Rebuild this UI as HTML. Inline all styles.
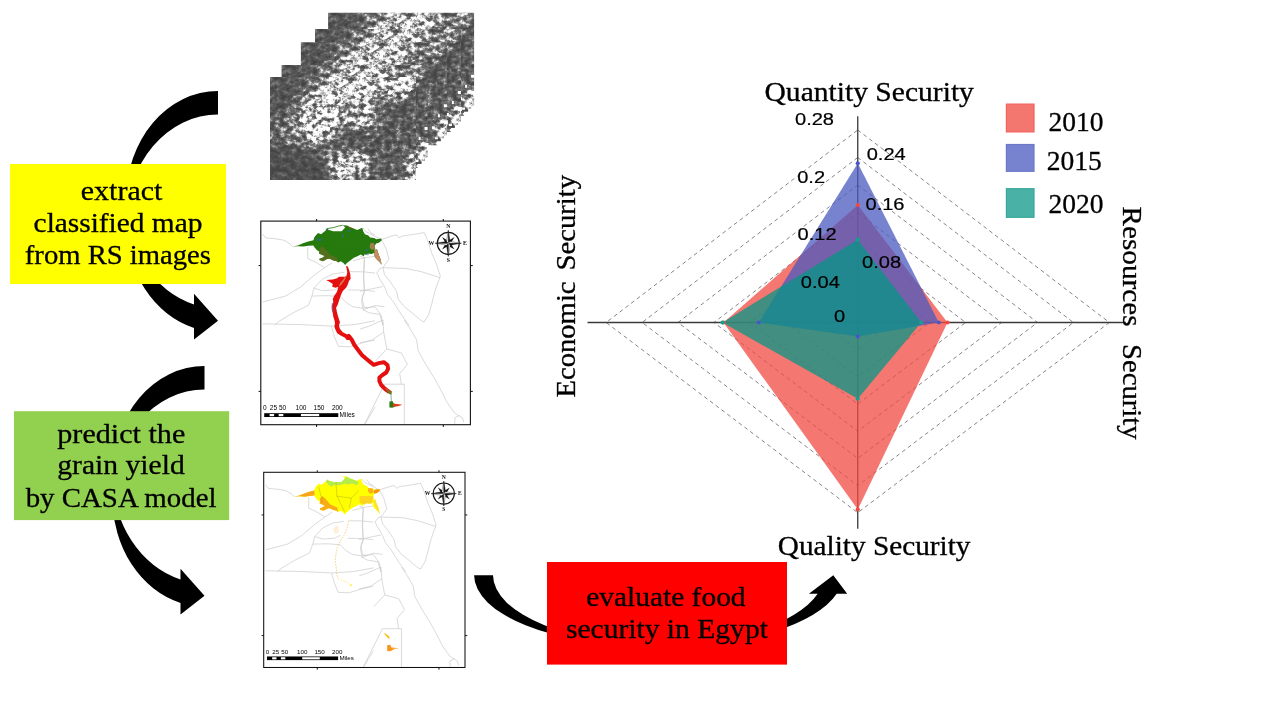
<!DOCTYPE html>
<html lang="en"><head><meta charset="utf-8"><title>Food security in Egypt - graphical abstract</title>
<style>
html,body{margin:0;padding:0;background:#fff;}
body{width:1280px;height:720px;overflow:hidden;}
svg{display:block;}
.pal{font-family:"Liberation Serif","DejaVu Serif",serif;font-size:26.6px;fill:#000;stroke:#000;stroke-width:0.3px;}
.ari{font-family:"Liberation Sans","DejaVu Sans",sans-serif;font-size:17px;fill:#000;stroke:#000;stroke-width:0.2px;}
.sm{font-family:"Liberation Sans","DejaVu Sans",sans-serif;font-size:6.5px;fill:#000;}
.cmp{font-family:"Liberation Serif",serif;font-size:5.8px;font-weight:bold;fill:#111;}
</style></head><body>
<svg width="1280" height="720" viewBox="0 0 1280 720">
<rect width="1280" height="720" fill="#fff"/>

<defs>
<filter id="noise" x="0" y="0" width="100%" height="100%" filterUnits="objectBoundingBox" color-interpolation-filters="sRGB">
 <feTurbulence type="fractalNoise" baseFrequency="0.19 0.22" numOctaves="4" seed="11" result="t"/>
 <feColorMatrix in="t" type="matrix" values="1 0 0 0 0  1 0 0 0 0  1 0 0 0 0  0 0 0 0 1" result="g"/>
 <feComposite in="SourceGraphic" in2="g" operator="arithmetic" k1="2.4" k2="-0.2" k3="0.2" k4="-0.1" result="m"/>
 <feComponentTransfer in="m"><feFuncR type="table" tableValues="0.25 0.29 0.35 0.46 0.72 0.96 1"/><feFuncG type="table" tableValues="0.25 0.29 0.35 0.46 0.72 0.96 1"/><feFuncB type="table" tableValues="0.25 0.29 0.35 0.46 0.72 0.96 1"/><feFuncA type="linear" slope="0" intercept="1"/></feComponentTransfer>
</filter>
<filter id="bl4" x="-30%" y="-30%" width="160%" height="160%"><feGaussianBlur stdDeviation="4.5"/></filter>
<filter id="bl2" x="-30%" y="-30%" width="160%" height="160%"><feGaussianBlur stdDeviation="1.6"/></filter>
<clipPath id="satclip"><rect x="0" y="0" width="146" height="103"/></clipPath>
<g id="sat">
 <g clip-path="url(#satclip)">
  <g filter="url(#noise)">
   <rect x="-10" y="-10" width="166" height="123" fill="#6a6a6a"/>
   <g filter="url(#bl4)">
    <path d="M54,-4 L107,-4 L113,12 L99,25 L107,41 L94,49 L75,46 L62,57 L48,69 L35,60 L27,41 L36,22 L48,12Z" fill="#c0c0c0"/>
    <path d="M113,-4 L150,-4 L150,13 L126,24 L112,12Z" fill="#c2c2c2"/>
    <path d="M62,79 L97,77 L97,92 L75,103 L62,98Z" fill="#c2c2c2"/>
    <rect x="19" y="34" width="14" height="30" fill="#8a8a8a"/>
    <path d="M-8,-8 L40,-8 L26,14 L16,40 L-8,44Z" fill="#484848"/>
    <path d="M-8,66 L30,72 L52,80 L64,112 L-8,112Z" fill="#3a3a3a"/>
    <rect x="71" y="27" width="19" height="12" fill="#686868"/>
    <rect x="70" y="51" width="28" height="22" fill="#505050"/>
    <path d="M118,28 L150,14 L150,110 L100,110 L102,76Z" fill="#5a5a5a"/>
    <rect x="138" y="74" width="14" height="32" fill="#b0b0b0"/>
   </g>
   <path d="M152,4 L123,45 L99,78" stroke="#333" stroke-width="3.5" fill="none" filter="url(#bl2)"/>
  </g>
 </g>
</g>
<g id="satw">
 <g clip-path="url(#satclip)">
  <g filter="url(#noise)">
   <rect x="-10" y="-10" width="166" height="123" fill="#6a6a6a"/>
   <g filter="url(#bl4)">
    <path d="M58,-4 L104,-4 L113,12 L99,25 L107,41 L94,49 L75,46 L62,57 L48,69 L35,60 L27,41 L36,22 L48,12Z" fill="#b4b4b4"/>
    <path d="M113,-4 L150,-4 L150,13 L126,24 L112,12Z" fill="#7e7e7e"/>
    <rect x="36" y="-4" width="20" height="14" fill="#7c7c7c"/>
    <path d="M-8,-8 L40,-8 L26,14 L16,40 L-8,44Z" fill="#484848"/>
    <path d="M118,28 L150,14 L150,110 L100,110 L102,76Z" fill="#5a5a5a"/>
    <rect x="138" y="76" width="14" height="30" fill="#b8b8b8"/>
   </g>
   <path d="M152,4 L123,45 L99,78" stroke="#333" stroke-width="3.5" fill="none" filter="url(#bl2)"/>
  </g>
 </g>
 <path d="M147,93 h-4 v3 h-3 v3 h-4 v5 h11Z M141,86 h3 v3 h-3Z M134,95 h3 v2 h-3Z M143,78 h4 v4 h-4Z M137,72 h2 v3 h-2Z M131,84 h3 v3 h-3Z M143,62 h3 v3 h-3Z" fill="#fff"/>
</g>
</defs>

<g id="satellite-stack">
<use href="#satw" x="328.1" y="12.7"/>
<use href="#satw" x="314.9" y="29.0"/>
<use href="#satw" x="300.9" y="42.2"/>
<use href="#satw" x="281.6" y="64.9"/>
<use href="#sat" x="270.0" y="77.0"/>
</g>
<path id="arrow1" d="M218,91 A92,108.6 0 0 0 126,199.6 L126,223.1 A92,108.6 0 0 1 218,114.5 Z M126,199.6 A92,108.6 0 0 0 194,304.4 L194,293.75 L218,320.75 L194,339.5 L194,327.9 A92,108.6 0 0 1 126,223.1 Z" fill="#000"/>
<path id="arrow2" d="M218,91 A92,108.6 0 0 0 126,199.6 L126,223.1 A92,108.6 0 0 1 218,114.5 Z M126,199.6 A92,108.6 0 0 0 194,304.4 L194,293.75 L218,320.75 L194,339.5 L194,327.9 A92,108.6 0 0 1 126,223.1 Z" fill="#000" transform="translate(-13.5,275)"/>
<path id="arrow3" d="M474.1,575.3 A174.9,71 0 0 0 649,646 A174.9,71 0 0 0 817.7,593.75 L808.9,593.75 L833.3,575.3 L847.2,593.75 L836.7,593.75 A174.9,71 0 0 1 668,646 A174.9,71 0 0 1 493,575.3 Z" fill="#000"/>
<rect x="10" y="164" width="216" height="120" fill="#ffff00"/>
<rect x="14" y="411.2" width="215.2" height="108.9" fill="#92d050"/>
<rect x="547" y="562" width="240" height="102.6" fill="#ff0000"/>
<text class="pal" x="80.8" y="200.4" textLength="81.6" lengthAdjust="spacingAndGlyphs">extract</text>
<text class="pal" x="33.6" y="232.4" textLength="168.8" lengthAdjust="spacingAndGlyphs">classified map</text>
<text class="pal" x="24.8" y="264.2" textLength="186.2" lengthAdjust="spacingAndGlyphs">from RS images</text>
<text class="pal" x="57.3" y="442.8" textLength="128.0" lengthAdjust="spacingAndGlyphs">predict the</text>
<text class="pal" x="57.3" y="474.4" textLength="127.5" lengthAdjust="spacingAndGlyphs">grain yield</text>
<text class="pal" x="25.7" y="507.0" textLength="190.8" lengthAdjust="spacingAndGlyphs">by CASA model</text>
<text class="pal" x="586.2" y="605.8" textLength="159.4" lengthAdjust="spacingAndGlyphs">evaluate food</text>
<text class="pal" x="565.9" y="637.7" textLength="202.0" lengthAdjust="spacingAndGlyphs">security in Egypt</text>
<g id="radar">
<g fill="none" stroke="#868686" stroke-width="1" stroke-dasharray="3.9 3.3">
<path d="M857.75,295.00 L893.70,322.50 L857.75,349.67 L821.80,322.50 Z"/>
<path d="M857.75,267.50 L929.65,322.50 L857.75,376.84 L785.85,322.50 Z"/>
<path d="M857.75,240.00 L965.60,322.50 L857.75,404.01 L749.90,322.50 Z"/>
<path d="M857.75,212.50 L1001.55,322.50 L857.75,431.18 L713.95,322.50 Z"/>
<path d="M857.75,185.00 L1037.50,322.50 L857.75,458.35 L678.00,322.50 Z"/>
<path d="M857.75,157.50 L1073.45,322.50 L857.75,485.52 L642.05,322.50 Z"/>
<path d="M857.75,130.00 L1109.40,322.50 L857.75,512.69 L606.10,322.50 Z"/>
</g>
<path d="M587.5,322.5 H1126 M857.75,116.3 V528.8" stroke="#3a3a3a" stroke-width="1.3" fill="none"/>
<path d="M857.8,205.0 L947.5,322.5 L857.8,509.5 L723.5,322.5Z" fill="rgba(240,75,65,0.75)"/>
<path d="M857.8,163.2 L938.8,322.5 L857.8,336.6 L758.8,322.5Z" fill="rgba(75,90,191,0.75)"/>
<path d="M857.8,239.7 L921.2,322.5 L857.8,398.8 L722.5,322.5Z" fill="rgba(7,150,134,0.75)"/>
<circle cx="857.75" cy="205.00" r="2.1" fill="#f4483c"/>
<circle cx="947.50" cy="322.50" r="2.1" fill="#f4483c"/>
<circle cx="857.75" cy="509.50" r="2.1" fill="#f4483c"/>
<circle cx="723.50" cy="322.50" r="2.1" fill="#f4483c"/>
<circle cx="857.75" cy="163.25" r="2.1" fill="#4858c8"/>
<circle cx="938.75" cy="322.50" r="2.1" fill="#4858c8"/>
<circle cx="857.75" cy="336.60" r="2.1" fill="#4858c8"/>
<circle cx="758.75" cy="322.50" r="2.1" fill="#4858c8"/>
<circle cx="857.75" cy="239.70" r="2.1" fill="#14a08c"/>
<circle cx="921.25" cy="322.50" r="2.1" fill="#14a08c"/>
<circle cx="857.75" cy="398.75" r="2.1" fill="#14a08c"/>
<circle cx="722.50" cy="322.50" r="2.1" fill="#14a08c"/>
<text class="ari" transform="translate(795.0,125.3) scale(1.180,1)">0.28</text>
<text class="ari" transform="translate(866.7,159.7) scale(1.180,1)">0.24</text>
<text class="ari" transform="translate(797.2,182.8) scale(1.180,1)">0.2</text>
<text class="ari" transform="translate(865.5,210.0) scale(1.180,1)">0.16</text>
<text class="ari" transform="translate(797.6,240.2) scale(1.180,1)">0.12</text>
<text class="ari" transform="translate(862.1,268.4) scale(1.180,1)">0.08</text>
<text class="ari" transform="translate(800.8,287.9) scale(1.180,1)">0.04</text>
<text class="ari" transform="translate(834.0,321.8) scale(1.180,1)">0</text>
<text class="pal" x="764.5" y="100.6" textLength="209.4" lengthAdjust="spacingAndGlyphs">Quantity Security</text>
<text class="pal" x="777.8" y="555.0" textLength="192.6" lengthAdjust="spacingAndGlyphs">Quality Security</text>
<text class="pal" transform="translate(574.7,397.6) rotate(-90)" xml:space="preserve"><tspan x="0" textLength="116.2" lengthAdjust="spacingAndGlyphs">Economic</tspan><tspan>  </tspan><tspan x="127.0" textLength="95.8" lengthAdjust="spacingAndGlyphs">Security</tspan></text>
<text class="pal" transform="translate(1123.2,206.5) rotate(90)" xml:space="preserve"><tspan x="0" textLength="120.0" lengthAdjust="spacingAndGlyphs">Resources</tspan><tspan>  </tspan><tspan x="137.6" textLength="95.4" lengthAdjust="spacingAndGlyphs">Security</tspan></text>
<rect x="1006.4" y="104.1" width="27.6" height="27.8" fill="#f4776f" stroke="#f2625a" stroke-width="1.2"/>
<rect x="1006.4" y="144.5" width="27.6" height="26.8" fill="#7883cf" stroke="#6d78c8" stroke-width="1.2"/>
<rect x="1006.4" y="188.7" width="27.6" height="28.6" fill="#49b1a6" stroke="#3ba79b" stroke-width="1.2"/>
<text class="pal" x="1048.6" y="130.8" style="font-size:27.5px">2010</text>
<text class="pal" x="1046.8" y="170.1" style="font-size:27.5px">2015</text>
<text class="pal" x="1048.6" y="213.4" style="font-size:27.5px">2020</text>
</g>
<g id="map-classified">
<rect x="260.8" y="221.1" width="209.6" height="203.6" fill="#fff"/>
<g fill="none" stroke="#c9c9c9" stroke-width="0.7" stroke-linejoin="round">
<path d="M262.6,234.1 L265.7,237.9 L274.9,238.7 L284.0,240.2 L290.2,244.0 L292.5,246.6"/>
<path d="M307.7,247.4 L307.7,258.6 L316.1,262.4 L324.6,267.7"/>
<path d="M332.2,262.7 L324.6,267.7 L313.1,276.1 L300.9,286.8 L285.6,296.0 L262.6,302.1"/>
<path d="M344.4,272.3 L333.0,273.9 L322.3,279.2 L313.9,288.1 L311.9,296.0 L308.5,305.2 L293.2,312.8 L277.9,322.0 L274.9,325.1"/>
<path d="M313.9,288.1 L322.3,290.7 L334.5,289.9 L340.6,286.8"/>
<path d="M311.9,296.0 L328.4,295.7 L340.6,296.8 L346.7,302.9 L352.8,306.7 L362.0,308.2 L375.0,306.7"/>
<path d="M352.8,260.9 L364.3,257.8 L375.0,256.3"/>
<path d="M364.3,257.8 L363.8,276.1 L364.3,291.4 L362.0,297.5 L363.8,306.7 L368.1,308.2"/>
<path d="M349.8,271.6 L364.3,271.9 L375.0,273.1"/>
<path d="M348.2,289.9 L364.3,290.2 L375.0,291.4"/>
<path d="M368.1,228.8 L371.2,233.3 L375.0,234.9"/>
<path d="M363.1,228.0 L366.1,231.8 L369.2,233.3 L375.3,236.4 L381.4,239.5 L390.6,236.4 L396.7,234.9 L399.0,237.9 L402.0,236.1 L410.4,234.9 L424.2,232.6 L427.3,239.5 L431.8,253.2 L436.4,263.9 L440.3,276.1 L438.0,282.3 L434.9,291.4 L431.8,303.7 L428.8,314.4 L424.2,322.0 L421.1,320.5 L412.0,312.8 L404.3,306.7 L398.2,299.1 L396.7,291.4 L390.6,282.3 L384.5,274.6 L382.9,267.7 L379.9,268.5 L376.8,273.1 L379.9,279.2 L384.5,286.8 L387.5,294.5 L393.6,302.1 L398.2,309.8 L404.3,318.9 L408.9,325.1"/>
<path d="M382.9,267.7 L405.9,268.5 L421.1,271.6 L440.3,277.7"/>
<path d="M381.4,239.5 L386.0,248.6 L389.0,259.3 L382.9,267.7"/>
<path d="M360.0,256.3 L364.6,257.8 L363.4,276.1 L364.6,291.4 L361.5,300.6 L363.1,309.8 L369.2,312.8 L379.9,314.4 L382.9,325.1"/>
<path d="M360.0,291.4 L372.2,288.7 L382.9,286.5"/>
<path d="M363.1,309.8 L375.3,305.5 L384.5,306.7"/>
<path d="M375.0,306.7 L381.4,315.9 L382.9,325.1"/>
<path d="M262.6,323.8 L300.9,324.6 L331.4,326.1 L354.4,324.6 L375.0,320.8"/>
<path d="M331.4,326.1 L334.5,336.8 L338.3,346.3 L349.8,346.8 L362.0,342.9 L375.0,339.9"/>
<path d="M375.0,407.1 L365.1,423.9"/>
<path d="M404.3,320.0 L410.4,329.2 L416.6,339.9 L418.1,350.6 L425.7,364.3 L433.4,376.6 L441.0,390.3 L447.1,402.5 L454.8,413.2 L462.4,417.8 L463.9,422.4"/>
<path d="M454.8,423.9 L454.8,417.8 L459.4,415.5"/>
<path d="M382.9,320.0 L383.7,332.2 L386.8,349.0 L401.3,352.9 L407.4,364.3 L399.7,373.5 L401.3,384.2"/>
<path d="M384.5,384.2 L404.3,384.2 L404.3,423.9"/>
<path d="M384.5,384.2 L364.6,423.9"/>
<path d="M360.0,342.9 L372.2,339.9 L383.7,332.2"/>
<path d="M386.8,349.0 L375.3,361.3"/>
<path d="M360.0,329.2 L369.2,326.1 L382.9,320.0"/>
</g>
<path d="M292.3,246.5 L297.9,245.4 L303.0,243.2 L308.2,241.5 L313.4,240.2 L314.6,236.8 L318.1,232.9 L321.1,234.2 L325.4,230.7 L327.1,228.6 L328.8,229.9 L331.8,230.7 L333.1,231.3 L341.7,231.2 L344.3,228.6 L345.2,227.3 L342.6,225.2 L346.9,225.6 L350.3,227.3 L353.8,228.6 L357.2,229.9 L362.3,227.7 L363.2,231.2 L364.9,234.2 L368.4,235.5 L370.1,237.6 L374.4,238.0 L376.1,239.3 L381.3,238.5 L381.7,240.6 L378.7,242.8 L376.1,243.6 L374.8,245.8 L375.2,248.4 L374.4,250.1 L377.0,249.2 L378.7,254.4 L380.4,258.7 L381.7,264.7 L379.5,262.1 L376.1,258.7 L374.4,256.1 L374.4,252.7 L371.8,253.9 L367.5,253.5 L366.2,254.8 L364.1,254.4 L364.1,256.5 L360.6,254.4 L358.0,256.1 L353.8,257.8 L350.3,260.4 L346.9,263.0 L345.2,265.1 L343.4,263.0 L340.9,261.3 L338.3,262.5 L336.6,261.3 L333.1,260.4 L329.7,258.7 L327.1,259.1 L324.5,260.4 L322.8,261.3 L319.4,260.0 L319.4,258.7 L322.8,257.4 L324.5,256.1 L321.1,254.4 L318.9,253.5 L319.4,251.8 L316.8,250.1 L314.6,247.5 L313.4,245.4 L308.2,245.8 L303.5,246.6 L297.9,246.2Z" fill="#26790c"/>
<path d="M327.1,228.6 L333.1,227.7 L338.3,226.2 L342.6,225.2" fill="none" stroke="#26790c" stroke-width="0.8"/>
<path d="M318.9,253.5 L321.1,254.4 L324.5,256.1 L322.8,257.4 L319.4,258.7 L319.4,260.0 L322.8,261.3 L324.5,260.4 L327.1,259.1 L329.7,258.7 L333.1,260.4 L336.6,261.3 L338.3,262.5 L337.4,257.8 L333.1,256.1 L329.7,254.4 L326.3,250.1 L322.0,245.8 L319.4,248.4 L319.4,251.8Z" fill="#7a6a2a" opacity="0.55"/>
<path d="M374.4,250.1 L377.0,249.2 L378.7,254.4 L380.4,258.7 L381.7,264.7 L379.5,262.1 L376.1,258.7 L374.4,256.1Z" fill="#c98a62"/>
<path d="M370.1,243.2 L373.5,242.8 L374.8,245.8 L375.2,248.4 L371.8,250.1 L369.7,247.5Z" fill="#b98358" opacity="0.8"/>
<path d="M346.9,225.6 L350.3,227.3 L353.8,228.6 L350.3,228.6 L347.7,227.3Z" fill="#8a5a28" opacity="0.7"/>
<rect x="325.8" y="228.4" width="2.0" height="1.8" fill="#2a6a9a" opacity="0.6"/>
<rect x="347.6" y="230.0" width="3.0" height="2.0" fill="#2a6a9a" opacity="0.6"/>
<rect x="316.5" y="238.5" width="5.0" height="2.5" fill="#2a6a9a" opacity="0.6"/>
<rect x="364.5" y="249.5" width="4.0" height="1.6" fill="#2a6a9a" opacity="0.6"/>
<rect x="366.5" y="253.0" width="2.2" height="2.2" fill="#2a6a9a" opacity="0.6"/>
<rect x="342.0" y="234.0" width="2.0" height="3.0" fill="#2a6a9a" opacity="0.6"/>
<g fill="none" stroke="#2d7f12" stroke-width="0.5" opacity="0.8"><path d="M336,232 L337,246 L345,262 M337,246 L352,248 L360,240 M352,248 L350,258"/></g>
<path d="M346.1,266.1 L346.7,268.9 L347.2,272.2 L346.7,275.6 L345.0,276.7 L342.2,276.7 L338.9,276.7 L337.2,278.3 L332.8,279.4 L326.1,280.0 L329.4,281.7 L332.8,283.9 L332.2,286.7 L335.6,287.8 L338.3,286.7 L337.8,288.9 L336.7,292.2 L334.4,295.6 L332.8,298.9 L333.3,302.2 L331.7,305.6 L331.7,308.9 L332.8,313.3 L333.3,316.7 L334.4,320.0 L335.0,323.3 L334.4,326.7 L335.6,330.0 L337.2,333.3 L340.6,335.6 L345.0,337.8 L348.3,340.0 L351.7,340.0 L350.6,336.7 L347.2,334.4 L342.8,332.2 L340.0,328.9 L338.9,325.6 L340.0,322.2 L338.9,318.9 L337.8,315.6 L336.7,311.1 L336.1,307.8 L337.8,304.4 L338.9,301.1 L340.0,297.8 L341.1,294.4 L342.8,291.1 L346.1,287.8 L347.8,284.4 L348.9,281.1 L350.6,278.9 L350.3,274.4 L349.4,271.1 L348.3,267.8 L347.2,266.1Z" fill="#e60f0f"/>
<path d="M345.0,276.7 L346.7,276.1 L344.1,281.1 L341.1,285.0 L338.9,286.7 L340.0,283.3 L342.8,280.0Z" fill="#cf8a55" opacity="0.85"/>
<path d="M347.5,338.0 L348.8,335.9 L351.9,340.0 L354.4,345.0 L358.1,350.0 L361.9,355.0 L366.2,358.8 L370.0,361.9 L373.8,364.8 L378.8,363.1 L383.8,362.2 L387.5,365.0 L388.1,368.8 L386.2,372.5 L382.5,375.0 L379.4,377.5 L379.4,381.2 L381.2,385.0 L385.0,388.8 L388.1,391.2" fill="none" stroke="#e60f0f" stroke-width="4" stroke-linejoin="round" stroke-linecap="round"/>
<path d="M332.2,303 L333,312" stroke="#4a78c0" stroke-width="0.7" fill="none"/>
<path d="M385.0,388.1 L388.8,389.4 L391.9,391.2 L391.5,395.0 L388.8,393.8 L386.9,391.2Z" fill="#6b7a1e"/>
<path d="M389.4,401.5 L392.5,401.0 L393.8,403.8 L398.1,405.0 L392.5,407.8 L389.4,407.5Z" fill="#2b7a10"/>
<path d="M393,403.6 L402.5,404.8 L398,406.3 L393,406.8Z" fill="#e23a1a"/>
<path d="M385,388.5 L391,391.5" stroke="#d8452a" stroke-width="1.2" fill="none"/>
<path d="M391,395 L391.3,401" stroke="#3a7a70" stroke-width="0.6" fill="none"/>
<rect x="260.8" y="221.1" width="209.6" height="203.6" fill="none" stroke="#111" stroke-width="1.1"/>
<path d="M316.6,219 V221.1 M443.3,219 V221.1 M316.6,424.7 V427 M443.3,424.7 V427 M258.6,265.6 H260.8 M258.6,391.4 H260.8 M470.4,265.6 H472.8 M470.4,391.4 H472.8" stroke="#111" stroke-width="1" fill="none"/>
<rect x="264.2" y="413.2" width="74.1" height="3.8" fill="#000"/>
<rect x="269.6" y="414" width="4.5" height="2.2" fill="#fff"/><rect x="278.7" y="414" width="4.6" height="2.2" fill="#fff"/><rect x="300.9" y="414" width="18.3" height="2.2" fill="#fff"/>
<text class="sm" x="263.0" y="410.3">0</text>
<text class="sm" x="269.8" y="410.3">25</text>
<text class="sm" x="279.0" y="410.3">50</text>
<text class="sm" x="295.6" y="410.3">100</text>
<text class="sm" x="313.6" y="410.3">150</text>
<text class="sm" x="331.9" y="410.3">200</text>
<text class="sm" x="339.6" y="417.2">Miles</text>
<g transform="translate(448.3,243.3)">
<circle r="11" fill="none" stroke="#151515" stroke-width="1.15"/>
<path d="M0,0 L1.4,-3 L0,-8.8 L-1.4,-3Z" fill="#151515" transform="rotate(45)"/>
<path d="M0,0 L1.4,-3 L0,-8.8 L-1.4,-3Z" fill="#151515" transform="rotate(135)"/>
<path d="M0,0 L1.4,-3 L0,-8.8 L-1.4,-3Z" fill="#151515" transform="rotate(225)"/>
<path d="M0,0 L1.4,-3 L0,-8.8 L-1.4,-3Z" fill="#151515" transform="rotate(315)"/>
<g transform="rotate(0)"><path d="M0,-13 L0,0 L-1.9,-1.9Z" fill="#fff" stroke="#151515" stroke-width="0.35"/><path d="M0,-13 L0,0 L1.9,-1.9Z" fill="#151515" stroke="#151515" stroke-width="0.35"/></g>
<g transform="rotate(90)"><path d="M0,-13 L0,0 L-1.9,-1.9Z" fill="#fff" stroke="#151515" stroke-width="0.35"/><path d="M0,-13 L0,0 L1.9,-1.9Z" fill="#151515" stroke="#151515" stroke-width="0.35"/></g>
<g transform="rotate(180)"><path d="M0,-13 L0,0 L-1.9,-1.9Z" fill="#fff" stroke="#151515" stroke-width="0.35"/><path d="M0,-13 L0,0 L1.9,-1.9Z" fill="#151515" stroke="#151515" stroke-width="0.35"/></g>
<g transform="rotate(270)"><path d="M0,-13 L0,0 L-1.9,-1.9Z" fill="#fff" stroke="#151515" stroke-width="0.35"/><path d="M0,-13 L0,0 L1.9,-1.9Z" fill="#151515" stroke="#151515" stroke-width="0.35"/></g>
<circle r="1.1" fill="#8a8a8a"/>
</g>
<text class="cmp" x="446.3" y="227.6">N</text><text class="cmp" x="446.8" y="262.0">S</text><text class="cmp" x="428.6" y="245.2">W</text><text class="cmp" x="463.0" y="245.3">E</text>
</g>
<g id="map-yield" transform="translate(263.7,472.3) scale(0.9604,0.9587) translate(-260.8,-221.1)">
<rect x="260.8" y="221.1" width="209.6" height="203.6" fill="#fff"/>
<g fill="none" stroke="#c9c9c9" stroke-width="0.7" stroke-linejoin="round">
<path d="M262.6,234.1 L265.7,237.9 L274.9,238.7 L284.0,240.2 L290.2,244.0 L292.5,246.6"/>
<path d="M307.7,247.4 L307.7,258.6 L316.1,262.4 L324.6,267.7"/>
<path d="M332.2,262.7 L324.6,267.7 L313.1,276.1 L300.9,286.8 L285.6,296.0 L262.6,302.1"/>
<path d="M344.4,272.3 L333.0,273.9 L322.3,279.2 L313.9,288.1 L311.9,296.0 L308.5,305.2 L293.2,312.8 L277.9,322.0 L274.9,325.1"/>
<path d="M313.9,288.1 L322.3,290.7 L334.5,289.9 L340.6,286.8"/>
<path d="M311.9,296.0 L328.4,295.7 L340.6,296.8 L346.7,302.9 L352.8,306.7 L362.0,308.2 L375.0,306.7"/>
<path d="M352.8,260.9 L364.3,257.8 L375.0,256.3"/>
<path d="M364.3,257.8 L363.8,276.1 L364.3,291.4 L362.0,297.5 L363.8,306.7 L368.1,308.2"/>
<path d="M349.8,271.6 L364.3,271.9 L375.0,273.1"/>
<path d="M348.2,289.9 L364.3,290.2 L375.0,291.4"/>
<path d="M368.1,228.8 L371.2,233.3 L375.0,234.9"/>
<path d="M363.1,228.0 L366.1,231.8 L369.2,233.3 L375.3,236.4 L381.4,239.5 L390.6,236.4 L396.7,234.9 L399.0,237.9 L402.0,236.1 L410.4,234.9 L424.2,232.6 L427.3,239.5 L431.8,253.2 L436.4,263.9 L440.3,276.1 L438.0,282.3 L434.9,291.4 L431.8,303.7 L428.8,314.4 L424.2,322.0 L421.1,320.5 L412.0,312.8 L404.3,306.7 L398.2,299.1 L396.7,291.4 L390.6,282.3 L384.5,274.6 L382.9,267.7 L379.9,268.5 L376.8,273.1 L379.9,279.2 L384.5,286.8 L387.5,294.5 L393.6,302.1 L398.2,309.8 L404.3,318.9 L408.9,325.1"/>
<path d="M382.9,267.7 L405.9,268.5 L421.1,271.6 L440.3,277.7"/>
<path d="M381.4,239.5 L386.0,248.6 L389.0,259.3 L382.9,267.7"/>
<path d="M360.0,256.3 L364.6,257.8 L363.4,276.1 L364.6,291.4 L361.5,300.6 L363.1,309.8 L369.2,312.8 L379.9,314.4 L382.9,325.1"/>
<path d="M360.0,291.4 L372.2,288.7 L382.9,286.5"/>
<path d="M363.1,309.8 L375.3,305.5 L384.5,306.7"/>
<path d="M375.0,306.7 L381.4,315.9 L382.9,325.1"/>
<path d="M262.6,323.8 L300.9,324.6 L331.4,326.1 L354.4,324.6 L375.0,320.8"/>
<path d="M331.4,326.1 L334.5,336.8 L338.3,346.3 L349.8,346.8 L362.0,342.9 L375.0,339.9"/>
<path d="M375.0,407.1 L365.1,423.9"/>
<path d="M404.3,320.0 L410.4,329.2 L416.6,339.9 L418.1,350.6 L425.7,364.3 L433.4,376.6 L441.0,390.3 L447.1,402.5 L454.8,413.2 L462.4,417.8 L463.9,422.4"/>
<path d="M454.8,423.9 L454.8,417.8 L459.4,415.5"/>
<path d="M382.9,320.0 L383.7,332.2 L386.8,349.0 L401.3,352.9 L407.4,364.3 L399.7,373.5 L401.3,384.2"/>
<path d="M384.5,384.2 L404.3,384.2 L404.3,423.9"/>
<path d="M384.5,384.2 L364.6,423.9"/>
<path d="M360.0,342.9 L372.2,339.9 L383.7,332.2"/>
<path d="M386.8,349.0 L375.3,361.3"/>
<path d="M360.0,329.2 L369.2,326.1 L382.9,320.0"/>
</g>
<path d="M292.3,246.5 L297.9,245.4 L303.0,243.2 L308.2,241.5 L313.4,240.2 L314.6,236.8 L318.1,232.9 L321.1,234.2 L325.4,230.7 L327.1,228.6 L328.8,229.9 L331.8,230.7 L333.1,231.3 L341.7,231.2 L344.3,228.6 L345.2,227.3 L342.6,225.2 L346.9,225.6 L350.3,227.3 L353.8,228.6 L357.2,229.9 L362.3,227.7 L363.2,231.2 L364.9,234.2 L368.4,235.5 L370.1,237.6 L374.4,238.0 L376.1,239.3 L381.3,238.5 L381.7,240.6 L378.7,242.8 L376.1,243.6 L374.8,245.8 L375.2,248.4 L374.4,250.1 L377.0,249.2 L378.7,254.4 L380.4,258.7 L381.7,264.7 L379.5,262.1 L376.1,258.7 L374.4,256.1 L374.4,252.7 L371.8,253.9 L367.5,253.5 L366.2,254.8 L364.1,254.4 L364.1,256.5 L360.6,254.4 L358.0,256.1 L353.8,257.8 L350.3,260.4 L346.9,263.0 L345.2,265.1 L343.4,263.0 L340.9,261.3 L338.3,262.5 L336.6,261.3 L333.1,260.4 L329.7,258.7 L327.1,259.1 L324.5,260.4 L322.8,261.3 L319.4,260.0 L319.4,258.7 L322.8,257.4 L324.5,256.1 L321.1,254.4 L318.9,253.5 L319.4,251.8 L316.8,250.1 L314.6,247.5 L313.4,245.4 L308.2,245.8 L303.5,246.6 L297.9,246.2Z" fill="#ffff00"/>
<path d="M318.9,253.5 L321.1,254.4 L324.5,256.1 L322.8,257.4 L319.4,258.7 L319.4,260.0 L322.8,261.3 L324.5,260.4 L327.1,259.1 L329.7,258.7 L333.1,260.4 L336.6,261.3 L338.3,262.5 L337.4,257.8 L333.1,256.1 L329.7,254.4 L326.3,250.1 L322.0,245.8 L319.4,248.4 L319.4,251.8Z" fill="#f7a21a" opacity="0.9"/>
<path d="M292.3,246.5 L297.9,245.4 L303.0,243.2 L308.2,241.5 L313.4,240.2 L313.8,244.1 L313.4,245.4 L308.2,245.8 L303.5,246.6 L297.9,246.2Z" fill="#f79a20" opacity="0.9"/>
<path d="M376.1,239.3 L381.3,238.5 L381.7,240.6 L378.7,242.8 L376.1,243.6 L375.2,241.5Z" fill="#f7931a"/>
<path d="M369.7,237.6 L374.4,238.0 L375.1,242.5 L371.4,243.6 L369.2,240.6Z" fill="#f7a21a" opacity="0.85"/>
<path d="M360.6,245.8 L374.8,245.8 L375.2,248.4 L374.4,250.1 L374.4,252.7 L371.8,253.9 L367.5,253.5 L366.2,254.8 L364.1,254.4 L360.6,252.7Z" fill="#f9b233" opacity="0.55"/>
<path d="M375.2,249.6 L376.8,249.4 L378.7,254.4 L380.4,258.7 L381.4,264.3 L379.5,261.3 L377.0,257.0Z" fill="#fbd24a" opacity="0.7"/>
<path d="M325.4,230.7 L327.1,228.6 L328.8,229.9 L331.8,230.7 L333.1,231.3 L341.7,231.2 L344.3,228.6 L346.9,225.6 L350.3,227.3 L353.8,228.6 L357.2,229.9 L359.8,231.2 L358.0,234.6 L352.9,232.9 L348.6,233.8 L345.2,232.9 L340.0,234.6 L334.8,234.2 L331.4,236.3 L328.0,233.8Z" fill="#b6ec4a"/>
<g fill="none" stroke="#9a9a20" stroke-width="0.5" opacity="0.8"><path d="M336,232 L337,246 L345,262 M337,246 L352,248 L360,240 M352,248 L350,258 M318,236 L322,252"/></g>
<path d="M349.0,271.6 L348.5,276.1 L346.4,282.3 L344.4,286.8 L340.6,293.0 L337.5,299.1 L336.0,306.7 L335.3,312.8 L336.0,318.9 L336.6,323.0 L336.3,326.1 L338.3,331.5" fill="none" stroke="#f9c068" stroke-width="0.9" stroke-dasharray="1.6 1.4" opacity="0.9"/>
<path d="M338.3,331.5 L343.0,334.5 L348.8,335.9 L351.5,339.0" fill="none" stroke="#ffe24a" stroke-width="0.9" stroke-dasharray="1.4 1.8" opacity="0.9"/>
<rect x="350.8" y="337.8" width="1.4" height="1.8" fill="#ffee00"/>
<path d="M338.3,276.1 L333.0,280.0 L334.5,285.3 L339.1,283.8Z" fill="#fbd08a" opacity="0.35"/>
<path d="M385.5,388.5 L388,389.5 L391.5,392 L391.8,395.5 L389.5,393.5Z" fill="#fbc21e"/>
<path d="M389.4,401.5 L392.5,401.0 L393.8,403.8 L398.1,405.0 L392.5,407.8 L389.4,407.5Z" fill="#f7941a"/>
<path d="M394.5,403.8 L402,404.6 L394.5,405.6Z" fill="#f9a83a"/>
<rect x="260.8" y="221.1" width="209.6" height="203.6" fill="none" stroke="#111" stroke-width="1.1"/>
<path d="M316.6,219 V221.1 M443.3,219 V221.1 M316.6,424.7 V427 M443.3,424.7 V427 M258.6,265.6 H260.8 M258.6,391.4 H260.8 M470.4,265.6 H472.8 M470.4,391.4 H472.8" stroke="#111" stroke-width="1" fill="none"/>
<rect x="264.2" y="413.2" width="74.1" height="3.8" fill="#000"/>
<rect x="269.6" y="414" width="4.5" height="2.2" fill="#fff"/><rect x="278.7" y="414" width="4.6" height="2.2" fill="#fff"/><rect x="300.9" y="414" width="18.3" height="2.2" fill="#fff"/>
<text class="sm" x="263.0" y="410.3">0</text>
<text class="sm" x="269.8" y="410.3">25</text>
<text class="sm" x="279.0" y="410.3">50</text>
<text class="sm" x="295.6" y="410.3">100</text>
<text class="sm" x="313.6" y="410.3">150</text>
<text class="sm" x="331.9" y="410.3">200</text>
<text class="sm" x="339.6" y="417.2">Miles</text>
<g transform="translate(448.3,243.3)">
<circle r="11" fill="none" stroke="#151515" stroke-width="1.15"/>
<path d="M0,0 L1.4,-3 L0,-8.8 L-1.4,-3Z" fill="#151515" transform="rotate(45)"/>
<path d="M0,0 L1.4,-3 L0,-8.8 L-1.4,-3Z" fill="#151515" transform="rotate(135)"/>
<path d="M0,0 L1.4,-3 L0,-8.8 L-1.4,-3Z" fill="#151515" transform="rotate(225)"/>
<path d="M0,0 L1.4,-3 L0,-8.8 L-1.4,-3Z" fill="#151515" transform="rotate(315)"/>
<g transform="rotate(0)"><path d="M0,-13 L0,0 L-1.9,-1.9Z" fill="#fff" stroke="#151515" stroke-width="0.35"/><path d="M0,-13 L0,0 L1.9,-1.9Z" fill="#151515" stroke="#151515" stroke-width="0.35"/></g>
<g transform="rotate(90)"><path d="M0,-13 L0,0 L-1.9,-1.9Z" fill="#fff" stroke="#151515" stroke-width="0.35"/><path d="M0,-13 L0,0 L1.9,-1.9Z" fill="#151515" stroke="#151515" stroke-width="0.35"/></g>
<g transform="rotate(180)"><path d="M0,-13 L0,0 L-1.9,-1.9Z" fill="#fff" stroke="#151515" stroke-width="0.35"/><path d="M0,-13 L0,0 L1.9,-1.9Z" fill="#151515" stroke="#151515" stroke-width="0.35"/></g>
<g transform="rotate(270)"><path d="M0,-13 L0,0 L-1.9,-1.9Z" fill="#fff" stroke="#151515" stroke-width="0.35"/><path d="M0,-13 L0,0 L1.9,-1.9Z" fill="#151515" stroke="#151515" stroke-width="0.35"/></g>
<circle r="1.1" fill="#8a8a8a"/>
</g>
<text class="cmp" x="446.3" y="227.6">N</text><text class="cmp" x="446.8" y="262.0">S</text><text class="cmp" x="428.6" y="245.2">W</text><text class="cmp" x="463.0" y="245.3">E</text>
</g>
</svg>
</body></html>
